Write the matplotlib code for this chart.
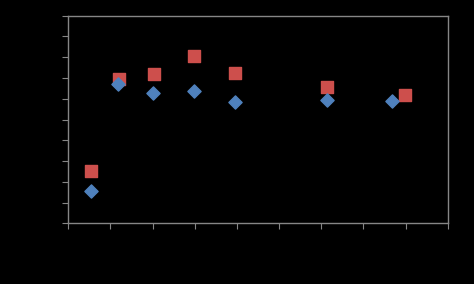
import matplotlib
matplotlib.use("Agg")

import matplotlib.pyplot as plt

# Series values (axis 0-90 x, 0-10 y)
x_blue = [5.3, 11.9, 20.2, 29.8, 39.5, 61.4, 76.9]
y_blue = [1.57, 6.70, 6.28, 6.37, 5.83, 5.94, 5.91]

x_red = [5.3, 12.1, 20.3, 29.9, 39.6, 61.4, 79.9]
y_red = [2.50, 6.95, 7.19, 8.06, 7.25, 6.55, 6.18]

x_ticks = list(range(0, 100, 10))
y_ticks = list(range(0, 11, 1))

fig = plt.figure(figsize=(4.74, 2.84), dpi=100, facecolor="black")
ax = fig.add_axes([0.1441, 0.2137, 0.8004, 0.731], facecolor="black")

# red first, blue diamonds sit on top of the squares
ax.scatter(x_red, y_red, marker="s", s=85, color="#CD4F4C", zorder=3)
ax.scatter(x_blue, y_blue, marker="D", s=45, color="#4F81BD", zorder=4)

ax.set_xlim(0, 90)
ax.set_ylim(0, 10)
ax.set_xticks(x_ticks)
ax.set_yticks(y_ticks)

for s in ax.spines.values():
    s.set_color("#868686")
    s.set_linewidth(1.0)

# tick labels are black on black in the original
ax.tick_params(axis="both", colors="#868686", labelcolor="black",
               direction="out", length=4, labelsize=8)

fig.savefig("out.png", dpi=100, facecolor="black")
